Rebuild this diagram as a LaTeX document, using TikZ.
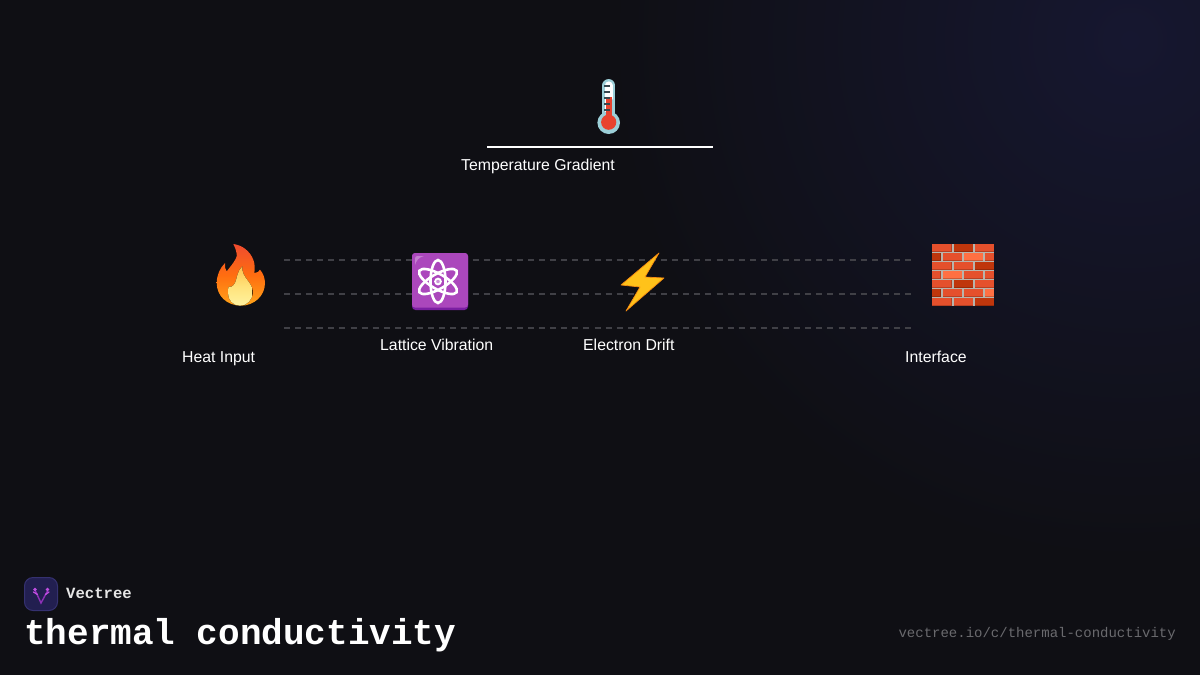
\documentclass[tikz,border=0pt]{standalone}
\usepackage{fontspec}
\setmainfont{Liberation Sans}
\setmonofont{Liberation Mono}
\definecolor{bgc}{HTML}{0F0F14}
\definecolor{glowc}{HTML}{161730}
\definecolor{dashc}{HTML}{404046}
\definecolor{urlc}{HTML}{6A6A6E}
\definecolor{brickm}{HTML}{E5502C}
\definecolor{brickd}{HTML}{BF360C}
\definecolor{brickl}{HTML}{FF7043}
\definecolor{mortar}{HTML}{B8B4AC}
\definecolor{atomc}{HTML}{AB47BC}
\definecolor{atomd}{HTML}{7B1FA2}
\definecolor{tubec}{HTML}{9CCFD8}
\definecolor{tickc}{HTML}{37474F}
\definecolor{mercury}{HTML}{E8432F}
\definecolor{flamet}{HTML}{EF4B2F}
\definecolor{flamem}{HTML}{FF6D10}
\definecolor{flameb}{HTML}{FFA41A}
\definecolor{coret}{HTML}{FFC24D}
\definecolor{corem}{HTML}{FFE27A}
\definecolor{coreb}{HTML}{FFF3A0}
\definecolor{boltc}{HTML}{FFC21A}
\definecolor{bolte}{HTML}{F58A10}
\definecolor{logoc}{HTML}{221F50}
\definecolor{logoe}{HTML}{353170}
\definecolor{twigc}{HTML}{8E30B8}
\definecolor{budc}{HTML}{C04FE2}
\tikzset{
  lab/.style={text=white, font=\fontsize{15.8}{18}\selectfont, inner sep=0pt, anchor=base west},
  railline/.style={draw=dashc, line width=1.3pt, dash pattern=on 6pt off 5.09pt},
  gradline/.style={draw=white, line width=2pt},
  atomring/.style={draw=white, line width=2.6pt},
  twig/.style={draw=twigc, line width=1.4pt, line cap=round},
}
\begin{document}
\begin{tikzpicture}[x=1pt,y=-1pt]
  \useasboundingbox (0,0) rectangle (1200,675);
  \fill[bgc] (0,0) rectangle (1200,675);
  \begin{scope}
    \clip (0,0) rectangle (1200,675);
    \shade[shading=radial, inner color=glowc, outer color=bgc] (1130,40) circle (520);
  \end{scope}
  % thermometer
  \draw[tubec, line width=12.7pt, line cap=round] (608.7,85.4) -- (608.7,120);
  \fill[tubec] (608.7,122.7) circle (11.3);
  \draw[white, line width=8pt, line cap=round] (608.5,85.4) -- (608.5,98);
  \fill[white] (604.5,96) rectangle (606,112);
  \fill[mercury] (605.6,96.8) rectangle (612,118);
  \fill[mercury] (608.7,122.2) circle (7.6);
  \foreach \ty in {85.7,92,98,104,110}
    \draw[tickc, line width=1.6pt] (604,\ty) -- (610,\ty);
  \coordinate (gradL) at (487,147);
  \coordinate (gradR) at (713,147);
  \draw[gradline] (gradL) -- (gradR);
  \node[lab] (gradlab) at (461,170) {Temperature Gradient};
  % dashed rails
  \foreach \ry/\rn in {260/a,294/b,328/c}{
    \coordinate (w\rn) at (284,\ry);
    \coordinate (e\rn) at (911,\ry);
    \draw[railline] (w\rn) -- (e\rn);
  }
  % flame
  \fill[top color=flamet, bottom color=flameb, middle color=flamem]
    (233.3,244) .. controls (242,245) and (250,251) .. (253.3,259.7)
    .. controls (255,264) and (255,269) .. (254.3,273)
    .. controls (257,273) and (259,271.5) .. (260,269.7)
    .. controls (263,273) and (265,278) .. (265,283)
    .. controls (265,296) and (254,305.7) .. (241,305.7)
    .. controls (227,305.7) and (216.7,296) .. (216.7,283)
    .. controls (216.7,275) and (220,268) .. (225,263)
    .. controls (224.5,266) and (225,269) .. (226.7,271.3)
    .. controls (230,267) and (238,258) .. (236.7,254)
    .. controls (236,250) and (235,247) .. (233.3,244) -- cycle;
  \fill[top color=coret, bottom color=coreb, middle color=corem]
    (242.3,266.3) .. controls (241.5,272) and (245,277) .. (248.3,281.3)
    .. controls (251,285) and (252.7,288) .. (252.7,292)
    .. controls (252.7,300) and (247,305.7) .. (240,305.7)
    .. controls (233,305.7) and (228,300) .. (228,293)
    .. controls (228,290) and (228,288.5) .. (228.6,287)
    .. controls (231,288) and (233,286) .. (235,283)
    .. controls (237,279) and (237,271) .. (242.3,266.3) -- cycle;
  \node[lab] (heatlab) at (182,362) {Heat Input};
  % atom
  \fill[atomd, rounded corners=3.5pt] (412,253) rectangle (468,310);
  \fill[atomc, rounded corners=3pt] (412,253) rectangle (468,307.5);
  \fill[white, opacity=0.3] (415,265) -- (415,258.5) .. controls (415,256.8) and (416,256) .. (417.5,256)
    -- (424,256) .. controls (419,257) and (416,261) .. (415,265) -- cycle;
  \foreach \ra in {90,30,-30}
    \draw[atomring, rotate around={\ra:(438,281.5)}] (438,281.5) ellipse (21.5 and 7.5);
  \draw[white, line width=1.8pt, fill=atomc!60!white] (438,281.5) circle (2.9);
  \node[lab] (latticelab) at (380,350) {Lattice Vibration};
  % bolt
  \fill[boltc, draw=bolte, line width=0.7pt, line join=round]
    (659,253) -- (621,285) -- (640,287) -- (626,311) -- (664,278) -- (645,277) -- cycle;
  \node[lab] (driftlab) at (583,350) {Electron Drift};
  % bricks
  \fill[mortar] (932,244) rectangle (994.3,306);
  \foreach \bi/\bl in {
    0/{932/951.7/brickm,954/973.3/brickd,975/994.3/brickm},
    1/{932/941/brickd,943/962.3/brickm,964/983.3/brickl,985.3/994.3/brickm},
    2/{932/951.7/brickm,954/973.3/brickm,975/994.3/brickd},
    3/{932/941/brickm,943/962.3/brickl,964/983.3/brickm,985.3/994.3/brickm},
    4/{932/951.7/brickm,954/973.3/brickd,975/994.3/brickm},
    5/{932/941/brickd,943/962.3/brickm,964/983.3/brickm,985.3/994.3/brickl},
    6/{932/951.7/brickm,954/973.3/brickm,975/994.3/brickd}}{
    \foreach \xa/\xb/\xc in \bl {
      \fill[\xc!80!black] (\xa,244+\bi*9) rectangle (\xb,251.6+\bi*9);
      \fill[\xc] (\xa,244+\bi*9) rectangle (\xb-0.8,250.8+\bi*9);
    }
  }
  \node[lab] (ifacelab) at (905,362) {Interface};
  % logo
  \node[draw=logoe, fill=logoc, line width=1pt, rounded corners=8.5pt, minimum width=33pt, minimum height=33pt, inner sep=0pt] (logo) at (41,594) {};
  \draw[twig] (35.5,591) -- (41,603) -- (47.5,591);
  \draw[budc, line width=1.3pt, line cap=round] (33.5,592) -- (37.5,594.5) (49,592) -- (45.5,594.5);
  \fill[budc] (35,589.5) circle (1.8) (47.5,589.5) circle (1.8);
  \node[text=white!90!black, font=\ttfamily\bfseries\fontsize{15.6}{18}\selectfont, inner sep=0pt, anchor=base west] (brand) at (66,598) {Vectree};
  \node[text=white, font=\ttfamily\bfseries\fontsize{36}{40}\selectfont, inner sep=0pt, anchor=base west] (title) at (24,644) {thermal conductivity};
  \node[text=urlc, font=\ttfamily\fontsize{14}{16}\selectfont, inner sep=0pt, anchor=base east] (url) at (1176,637) {vectree.io/c/thermal-conductivity};
\end{tikzpicture}
\end{document}
